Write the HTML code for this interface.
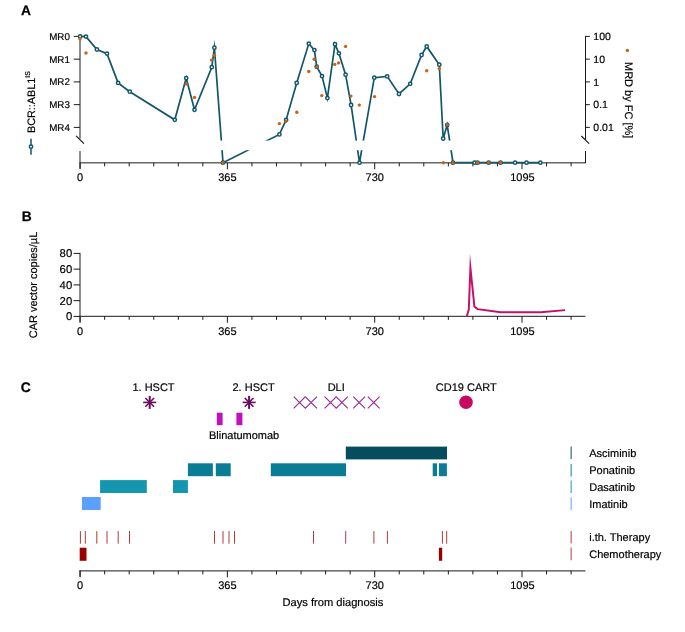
<!DOCTYPE html>
<html lang="en"><head><meta charset="utf-8"><title>Figure</title>
<style>
html,body{margin:0;padding:0;background:#fff;}
body{width:685px;height:632px;overflow:hidden;}
svg{display:block;}
svg text{font-family:"Liberation Sans", Arial, sans-serif;font-size:11px;fill:#000;text-rendering:geometricPrecision;stroke:#000;stroke-width:0.18px;}
svg text.b{font-weight:bold;font-size:13.8px;fill:#000;stroke:#000;stroke-width:0.25px;}
</style></head><body>
<svg width="685" height="632" viewBox="0 0 685 632">
<rect width="685" height="632" fill="#fff"/>

<g id="panelA">
<text class="b" x="21.0" y="15.0">A</text>
<clipPath id="clipA"><rect x="70" y="30" width="530" height="133.6"/></clipPath>
<polyline clip-path="url(#clipA)" points="80.1,36.4 86.0,36.6 96.9,49.5 107.0,53.6 118.1,82.9 129.8,91.7 174.8,119.8 186.2,78.1 194.5,109.8 211.8,67.2 214.4,47.7 223.0,162.7 279.4,134.4 286.1,119.9 296.7,82.9 308.8,43.6 314.4,50.1 316.7,66.7 322.0,76.1 327.4,98.1 335.0,44.2 338.9,53.3 345.6,74.7 351.1,105.0 359.5,162.7 374.3,77.7 387.2,76.4 399.0,94.0 410.2,83.8 421.6,55.0 426.7,46.4 439.3,64.7 443.2,138.5 447.2,125.0 453.0,162.7 474.6,162.7 477.5,162.7 488.7,162.7 500.5,162.7 515.1,162.7 526.5,162.7 540.4,162.7" fill="none" stroke="#12566A" stroke-width="1.7" stroke-linejoin="miter" stroke-miterlimit="12"/>
<rect x="60" y="140.6" width="540" height="9.6" fill="#fff"/>
<line x1="80" y1="35.9" x2="80" y2="138.6" stroke="#1a1a1a" stroke-width="1"/>
<line x1="80" y1="151" x2="80" y2="168.6" stroke="#1a1a1a" stroke-width="1"/>
<line x1="76.1" y1="135.9" x2="83.9" y2="143.7" stroke="#1a1a1a" stroke-width="1.2"/>
<line x1="585.5" y1="35.9" x2="585.5" y2="139.6" stroke="#1a1a1a" stroke-width="1"/>
<line x1="585.5" y1="151" x2="585.5" y2="163.1" stroke="#1a1a1a" stroke-width="1"/>
<line x1="581.3" y1="136" x2="589.2" y2="143.6" stroke="#1a1a1a" stroke-width="1.2"/>
<line x1="79.6" y1="162.85" x2="585.5" y2="162.85" stroke="#1a1a1a" stroke-width="1"/>
<line x1="80.10" y1="162.85" x2="80.10" y2="169.25" stroke="#1a1a1a" stroke-width="1"/>
<line x1="104.65" y1="162.85" x2="104.65" y2="166.35" stroke="#1a1a1a" stroke-width="1"/>
<line x1="129.20" y1="162.85" x2="129.20" y2="166.35" stroke="#1a1a1a" stroke-width="1"/>
<line x1="153.75" y1="162.85" x2="153.75" y2="166.35" stroke="#1a1a1a" stroke-width="1"/>
<line x1="178.30" y1="162.85" x2="178.30" y2="166.35" stroke="#1a1a1a" stroke-width="1"/>
<line x1="202.85" y1="162.85" x2="202.85" y2="166.35" stroke="#1a1a1a" stroke-width="1"/>
<line x1="227.40" y1="162.85" x2="227.40" y2="169.25" stroke="#1a1a1a" stroke-width="1"/>
<line x1="251.95" y1="162.85" x2="251.95" y2="166.35" stroke="#1a1a1a" stroke-width="1"/>
<line x1="276.50" y1="162.85" x2="276.50" y2="166.35" stroke="#1a1a1a" stroke-width="1"/>
<line x1="301.05" y1="162.85" x2="301.05" y2="166.35" stroke="#1a1a1a" stroke-width="1"/>
<line x1="325.60" y1="162.85" x2="325.60" y2="166.35" stroke="#1a1a1a" stroke-width="1"/>
<line x1="350.15" y1="162.85" x2="350.15" y2="166.35" stroke="#1a1a1a" stroke-width="1"/>
<line x1="374.70" y1="162.85" x2="374.70" y2="169.25" stroke="#1a1a1a" stroke-width="1"/>
<line x1="399.25" y1="162.85" x2="399.25" y2="166.35" stroke="#1a1a1a" stroke-width="1"/>
<line x1="423.80" y1="162.85" x2="423.80" y2="166.35" stroke="#1a1a1a" stroke-width="1"/>
<line x1="448.35" y1="162.85" x2="448.35" y2="166.35" stroke="#1a1a1a" stroke-width="1"/>
<line x1="472.90" y1="162.85" x2="472.90" y2="166.35" stroke="#1a1a1a" stroke-width="1"/>
<line x1="497.45" y1="162.85" x2="497.45" y2="166.35" stroke="#1a1a1a" stroke-width="1"/>
<line x1="522.00" y1="162.85" x2="522.00" y2="169.25" stroke="#1a1a1a" stroke-width="1"/>
<line x1="546.55" y1="162.85" x2="546.55" y2="166.35" stroke="#1a1a1a" stroke-width="1"/>
<line x1="571.10" y1="162.85" x2="571.10" y2="166.35" stroke="#1a1a1a" stroke-width="1"/>
<line x1="73.8" y1="36.40" x2="80" y2="36.40" stroke="#1a1a1a" stroke-width="1"/>
<text transform="translate(69.9,39.75) " text-anchor="end" style="font-size:9.8px">MR0</text>
<line x1="73.8" y1="59.15" x2="80" y2="59.15" stroke="#1a1a1a" stroke-width="1"/>
<text transform="translate(69.9,62.50) " text-anchor="end" style="font-size:9.8px">MR1</text>
<line x1="73.8" y1="81.90" x2="80" y2="81.90" stroke="#1a1a1a" stroke-width="1"/>
<text transform="translate(69.9,85.25) " text-anchor="end" style="font-size:9.8px">MR2</text>
<line x1="73.8" y1="104.65" x2="80" y2="104.65" stroke="#1a1a1a" stroke-width="1"/>
<text transform="translate(69.9,108.00) " text-anchor="end" style="font-size:9.8px">MR3</text>
<line x1="73.8" y1="127.40" x2="80" y2="127.40" stroke="#1a1a1a" stroke-width="1"/>
<text transform="translate(69.9,130.75) " text-anchor="end" style="font-size:9.8px">MR4</text>
<line x1="585.5" y1="36.40" x2="589.8" y2="36.40" stroke="#1a1a1a" stroke-width="1"/>
<text x="593.3" y="40.20" style="font-size:10.5px">100</text>
<line x1="585.5" y1="59.15" x2="589.8" y2="59.15" stroke="#1a1a1a" stroke-width="1"/>
<text x="593.3" y="62.95" style="font-size:10.5px">10</text>
<line x1="585.5" y1="81.90" x2="589.8" y2="81.90" stroke="#1a1a1a" stroke-width="1"/>
<text x="593.3" y="85.70" style="font-size:10.5px">1</text>
<line x1="585.5" y1="104.65" x2="589.8" y2="104.65" stroke="#1a1a1a" stroke-width="1"/>
<text x="593.3" y="108.45" style="font-size:10.5px">0.1</text>
<line x1="585.5" y1="127.40" x2="589.8" y2="127.40" stroke="#1a1a1a" stroke-width="1"/>
<text x="593.3" y="131.20" style="font-size:10.5px">0.01</text>
<text x="80.10" y="180.9" text-anchor="middle">0</text>
<text x="227.40" y="180.9" text-anchor="middle">365</text>
<text x="374.70" y="180.9" text-anchor="middle">730</text>
<text x="522.50" y="180.9" text-anchor="middle">1095</text>
<polyline points="453,162.7 540.4,162.7" fill="none" stroke="#12566A" stroke-width="1.6"/>
<circle cx="80.1" cy="36.4" r="1.65" fill="#fff" stroke="#12566A" stroke-width="1.5"/>
<circle cx="86.0" cy="36.6" r="1.65" fill="#fff" stroke="#12566A" stroke-width="1.5"/>
<circle cx="96.9" cy="49.5" r="1.65" fill="#fff" stroke="#12566A" stroke-width="1.5"/>
<circle cx="107.0" cy="53.6" r="1.65" fill="#fff" stroke="#12566A" stroke-width="1.5"/>
<circle cx="118.1" cy="82.9" r="1.65" fill="#fff" stroke="#12566A" stroke-width="1.5"/>
<circle cx="129.8" cy="91.7" r="1.65" fill="#fff" stroke="#12566A" stroke-width="1.5"/>
<circle cx="174.8" cy="119.8" r="1.65" fill="#fff" stroke="#12566A" stroke-width="1.5"/>
<circle cx="186.2" cy="78.1" r="1.65" fill="#fff" stroke="#12566A" stroke-width="1.5"/>
<circle cx="194.5" cy="109.8" r="1.65" fill="#fff" stroke="#12566A" stroke-width="1.5"/>
<circle cx="211.8" cy="67.2" r="1.65" fill="#fff" stroke="#12566A" stroke-width="1.5"/>
<circle cx="214.4" cy="47.7" r="1.65" fill="#fff" stroke="#12566A" stroke-width="1.5"/>
<circle cx="223.0" cy="162.7" r="1.65" fill="#fff" stroke="#12566A" stroke-width="1.5"/>
<circle cx="279.4" cy="134.4" r="1.65" fill="#fff" stroke="#12566A" stroke-width="1.5"/>
<circle cx="286.1" cy="119.9" r="1.65" fill="#fff" stroke="#12566A" stroke-width="1.5"/>
<circle cx="296.7" cy="82.9" r="1.65" fill="#fff" stroke="#12566A" stroke-width="1.5"/>
<circle cx="308.8" cy="43.6" r="1.65" fill="#fff" stroke="#12566A" stroke-width="1.5"/>
<circle cx="314.4" cy="50.1" r="1.65" fill="#fff" stroke="#12566A" stroke-width="1.5"/>
<circle cx="316.7" cy="66.7" r="1.65" fill="#fff" stroke="#12566A" stroke-width="1.5"/>
<circle cx="322.0" cy="76.1" r="1.65" fill="#fff" stroke="#12566A" stroke-width="1.5"/>
<circle cx="327.4" cy="98.1" r="1.65" fill="#fff" stroke="#12566A" stroke-width="1.5"/>
<circle cx="335.0" cy="44.2" r="1.65" fill="#fff" stroke="#12566A" stroke-width="1.5"/>
<circle cx="338.9" cy="53.3" r="1.65" fill="#fff" stroke="#12566A" stroke-width="1.5"/>
<circle cx="345.6" cy="74.7" r="1.65" fill="#fff" stroke="#12566A" stroke-width="1.5"/>
<circle cx="351.1" cy="105.0" r="1.65" fill="#fff" stroke="#12566A" stroke-width="1.5"/>
<circle cx="359.5" cy="162.7" r="1.65" fill="#fff" stroke="#12566A" stroke-width="1.5"/>
<circle cx="374.3" cy="77.7" r="1.65" fill="#fff" stroke="#12566A" stroke-width="1.5"/>
<circle cx="387.2" cy="76.4" r="1.65" fill="#fff" stroke="#12566A" stroke-width="1.5"/>
<circle cx="399.0" cy="94.0" r="1.65" fill="#fff" stroke="#12566A" stroke-width="1.5"/>
<circle cx="410.2" cy="83.8" r="1.65" fill="#fff" stroke="#12566A" stroke-width="1.5"/>
<circle cx="421.6" cy="55.0" r="1.65" fill="#fff" stroke="#12566A" stroke-width="1.5"/>
<circle cx="426.7" cy="46.4" r="1.65" fill="#fff" stroke="#12566A" stroke-width="1.5"/>
<circle cx="439.3" cy="64.7" r="1.65" fill="#fff" stroke="#12566A" stroke-width="1.5"/>
<circle cx="443.2" cy="138.5" r="1.65" fill="#fff" stroke="#12566A" stroke-width="1.5"/>
<circle cx="447.2" cy="125.0" r="1.65" fill="#fff" stroke="#12566A" stroke-width="1.5"/>
<circle cx="453.0" cy="162.7" r="1.65" fill="#fff" stroke="#12566A" stroke-width="1.5"/>
<circle cx="474.6" cy="162.7" r="1.65" fill="#fff" stroke="#12566A" stroke-width="1.5"/>
<circle cx="477.5" cy="162.7" r="1.65" fill="#fff" stroke="#12566A" stroke-width="1.5"/>
<circle cx="488.7" cy="162.7" r="1.65" fill="#fff" stroke="#12566A" stroke-width="1.5"/>
<circle cx="500.5" cy="162.7" r="1.65" fill="#fff" stroke="#12566A" stroke-width="1.5"/>
<circle cx="515.1" cy="162.7" r="1.65" fill="#fff" stroke="#12566A" stroke-width="1.5"/>
<circle cx="526.5" cy="162.7" r="1.65" fill="#fff" stroke="#12566A" stroke-width="1.5"/>
<circle cx="540.4" cy="162.7" r="1.65" fill="#fff" stroke="#12566A" stroke-width="1.5"/>
<circle cx="80.0" cy="38.7" r="1.7" fill="#C8640F"/>
<circle cx="86.0" cy="53.0" r="1.7" fill="#C8640F"/>
<circle cx="186.2" cy="83.9" r="1.7" fill="#C8640F"/>
<circle cx="194.5" cy="97.4" r="1.7" fill="#C8640F"/>
<circle cx="211.5" cy="60.1" r="1.7" fill="#C8640F"/>
<circle cx="214.4" cy="55.2" r="1.7" fill="#C8640F"/>
<circle cx="223.0" cy="162.7" r="1.7" fill="#C8640F"/>
<circle cx="279.4" cy="123.6" r="1.7" fill="#C8640F"/>
<circle cx="286.1" cy="121.1" r="1.7" fill="#C8640F"/>
<circle cx="296.8" cy="112.2" r="1.7" fill="#C8640F"/>
<circle cx="308.8" cy="71.5" r="1.7" fill="#C8640F"/>
<circle cx="314.2" cy="59.3" r="1.7" fill="#C8640F"/>
<circle cx="316.9" cy="66.9" r="1.7" fill="#C8640F"/>
<circle cx="321.8" cy="95.6" r="1.7" fill="#C8640F"/>
<circle cx="334.8" cy="64.4" r="1.7" fill="#C8640F"/>
<circle cx="338.6" cy="62.9" r="1.7" fill="#C8640F"/>
<circle cx="345.6" cy="46.4" r="1.7" fill="#C8640F"/>
<circle cx="350.9" cy="96.1" r="1.7" fill="#C8640F"/>
<circle cx="359.3" cy="105.1" r="1.7" fill="#C8640F"/>
<circle cx="374.5" cy="96.6" r="1.7" fill="#C8640F"/>
<circle cx="426.7" cy="70.8" r="1.7" fill="#C8640F"/>
<circle cx="439.3" cy="68.6" r="1.7" fill="#C8640F"/>
<circle cx="447.2" cy="124.7" r="1.7" fill="#C8640F"/>
<circle cx="443.4" cy="162.7" r="1.7" fill="#C8640F"/>
<circle cx="453.0" cy="162.7" r="1.7" fill="#C8640F"/>
<circle cx="477.5" cy="162.7" r="1.7" fill="#C8640F"/>
<circle cx="488.7" cy="162.7" r="1.7" fill="#C8640F"/>
<circle cx="500.5" cy="162.7" r="1.7" fill="#C8640F"/>
<text transform="translate(35.3,133.0) rotate(-90)" style="font-size:10.8px">BCR::ABL1<tspan dy="-5" style="font-size:7px">IS</tspan></text>
<line x1="31" y1="138.7" x2="31" y2="154.7" stroke="#12566A" stroke-width="1.5"/>
<circle cx="31" cy="146.7" r="1.65" fill="#fff" stroke="#12566A" stroke-width="1.5"/>
<text transform="translate(624.5,62.0) rotate(90)" style="font-size:11px">MRD by FC [%]</text>
<circle cx="627.4" cy="50.4" r="1.7" fill="#C8640F"/>
</g>
<g id="panelB">
<text class="b" x="21.85" y="220.9">B</text>
<line x1="80" y1="252.9" x2="80" y2="322.3" stroke="#1a1a1a" stroke-width="1"/>
<line x1="79.6" y1="316.3" x2="585.5" y2="316.3" stroke="#1a1a1a" stroke-width="1"/>
<line x1="80.10" y1="316.3" x2="80.10" y2="322.7" stroke="#1a1a1a" stroke-width="1"/>
<line x1="104.65" y1="316.3" x2="104.65" y2="319.8" stroke="#1a1a1a" stroke-width="1"/>
<line x1="129.20" y1="316.3" x2="129.20" y2="319.8" stroke="#1a1a1a" stroke-width="1"/>
<line x1="153.75" y1="316.3" x2="153.75" y2="319.8" stroke="#1a1a1a" stroke-width="1"/>
<line x1="178.30" y1="316.3" x2="178.30" y2="319.8" stroke="#1a1a1a" stroke-width="1"/>
<line x1="202.85" y1="316.3" x2="202.85" y2="319.8" stroke="#1a1a1a" stroke-width="1"/>
<line x1="227.40" y1="316.3" x2="227.40" y2="322.7" stroke="#1a1a1a" stroke-width="1"/>
<line x1="251.95" y1="316.3" x2="251.95" y2="319.8" stroke="#1a1a1a" stroke-width="1"/>
<line x1="276.50" y1="316.3" x2="276.50" y2="319.8" stroke="#1a1a1a" stroke-width="1"/>
<line x1="301.05" y1="316.3" x2="301.05" y2="319.8" stroke="#1a1a1a" stroke-width="1"/>
<line x1="325.60" y1="316.3" x2="325.60" y2="319.8" stroke="#1a1a1a" stroke-width="1"/>
<line x1="350.15" y1="316.3" x2="350.15" y2="319.8" stroke="#1a1a1a" stroke-width="1"/>
<line x1="374.70" y1="316.3" x2="374.70" y2="322.7" stroke="#1a1a1a" stroke-width="1"/>
<line x1="399.25" y1="316.3" x2="399.25" y2="319.8" stroke="#1a1a1a" stroke-width="1"/>
<line x1="423.80" y1="316.3" x2="423.80" y2="319.8" stroke="#1a1a1a" stroke-width="1"/>
<line x1="448.35" y1="316.3" x2="448.35" y2="319.8" stroke="#1a1a1a" stroke-width="1"/>
<line x1="472.90" y1="316.3" x2="472.90" y2="319.8" stroke="#1a1a1a" stroke-width="1"/>
<line x1="497.45" y1="316.3" x2="497.45" y2="319.8" stroke="#1a1a1a" stroke-width="1"/>
<line x1="522.00" y1="316.3" x2="522.00" y2="322.7" stroke="#1a1a1a" stroke-width="1"/>
<line x1="546.55" y1="316.3" x2="546.55" y2="319.8" stroke="#1a1a1a" stroke-width="1"/>
<line x1="571.10" y1="316.3" x2="571.10" y2="319.8" stroke="#1a1a1a" stroke-width="1"/>
<line x1="73.6" y1="253.40" x2="80" y2="253.40" stroke="#1a1a1a" stroke-width="1"/>
<text x="72.2" y="257.40" text-anchor="end" style="font-size:11.3px">80</text>
<line x1="73.6" y1="269.15" x2="80" y2="269.15" stroke="#1a1a1a" stroke-width="1"/>
<text x="72.2" y="273.15" text-anchor="end" style="font-size:11.3px">60</text>
<line x1="73.6" y1="284.90" x2="80" y2="284.90" stroke="#1a1a1a" stroke-width="1"/>
<text x="72.2" y="288.90" text-anchor="end" style="font-size:11.3px">40</text>
<line x1="73.6" y1="300.65" x2="80" y2="300.65" stroke="#1a1a1a" stroke-width="1"/>
<text x="72.2" y="304.65" text-anchor="end" style="font-size:11.3px">20</text>
<line x1="73.6" y1="316.40" x2="80" y2="316.40" stroke="#1a1a1a" stroke-width="1"/>
<text x="72.2" y="320.40" text-anchor="end" style="font-size:11.3px">0</text>
<text x="80.10" y="335.0" text-anchor="middle">0</text>
<text x="227.40" y="335.0" text-anchor="middle">365</text>
<text x="374.70" y="335.0" text-anchor="middle">730</text>
<text x="522.50" y="335.0" text-anchor="middle">1095</text>
<polyline points="466.8,316.2 468.8,309.5 470.4,267.6 474.4,306.4 477.6,309.1 500.7,312.3 540.9,312.3 565.1,310.1" fill="none" stroke="#C60F6B" stroke-width="1.95" stroke-linejoin="miter" stroke-miterlimit="30"/>
<text transform="translate(37.1,338.3) rotate(-90)">CAR vector copies/µL</text>
</g>
<g id="panelC">
<text class="b" x="20.8" y="392.1">C</text>
<text x="153.5" y="391.2" text-anchor="middle">1. HSCT</text>
<text x="253.6" y="391.2" text-anchor="middle">2. HSCT</text>
<text x="336.2" y="391.2" text-anchor="middle">DLI</text>
<text x="466.3" y="391.2" text-anchor="middle">CD19 CART</text>
<text x="244.1" y="439.2" text-anchor="middle">Blinatumomab</text>
<g stroke="#680C5C" stroke-linecap="butt"><line x1="149.7" y1="395.9" x2="149.7" y2="408.9" stroke-width="2"/><line x1="143.2" y1="402.4" x2="156.2" y2="402.4" stroke-width="1.6"/><line x1="145.35" y1="398.04999999999995" x2="154.04999999999998" y2="406.75" stroke-width="1.6"/><line x1="145.35" y1="406.75" x2="154.04999999999998" y2="398.04999999999995" stroke-width="1.6"/></g>
<g stroke="#680C5C" stroke-linecap="butt"><line x1="249.1" y1="395.9" x2="249.1" y2="408.9" stroke-width="2"/><line x1="242.6" y1="402.4" x2="255.6" y2="402.4" stroke-width="1.6"/><line x1="244.75" y1="398.04999999999995" x2="253.45" y2="406.75" stroke-width="1.6"/><line x1="244.75" y1="406.75" x2="253.45" y2="398.04999999999995" stroke-width="1.6"/></g>
<path d="M293.70000000000005,396.6L305.5,408.4M293.70000000000005,408.4L305.5,396.6" stroke="#962896" stroke-width="1.15" fill="none"/>
<path d="M305.20000000000005,396.6L317.0,408.4M305.20000000000005,408.4L317.0,396.6" stroke="#962896" stroke-width="1.15" fill="none"/>
<path d="M324.6,396.6L336.4,408.4M324.6,408.4L336.4,396.6" stroke="#962896" stroke-width="1.15" fill="none"/>
<path d="M336.0,396.6L347.79999999999995,408.4M336.0,408.4L347.79999999999995,396.6" stroke="#962896" stroke-width="1.15" fill="none"/>
<path d="M353.3,396.6L365.09999999999997,408.4M353.3,408.4L365.09999999999997,396.6" stroke="#962896" stroke-width="1.15" fill="none"/>
<path d="M367.8,396.6L379.59999999999997,408.4M367.8,408.4L379.59999999999997,396.6" stroke="#962896" stroke-width="1.15" fill="none"/>
<circle cx="466" cy="402.3" r="6.8" fill="#C8085E"/>
<rect x="216.8" y="412.7" width="5.8" height="12.5" fill="#C010C0"/>
<rect x="236.4" y="412.7" width="6.0" height="12.5" fill="#C010C0"/>
<rect x="345.8" y="446.6" width="101.20" height="12.80" fill="#054C5F"/>
<rect x="187.9" y="463.3" width="25.00" height="12.90" fill="#0A7D95"/>
<rect x="215.8" y="463.3" width="14.90" height="12.90" fill="#0A7D95"/>
<rect x="270.8" y="463.3" width="75.20" height="12.90" fill="#0A7D95"/>
<rect x="432.7" y="463.3" width="4.30" height="12.90" fill="#0A7D95"/>
<rect x="439.0" y="463.3" width="7.90" height="12.90" fill="#0A7D95"/>
<rect x="100.1" y="480.1" width="46.70" height="12.90" fill="#1396AE"/>
<rect x="173.0" y="480.1" width="14.90" height="12.90" fill="#1396AE"/>
<rect x="82.0" y="497.0" width="18.70" height="13.00" fill="#5B9FFF"/>
<line x1="80.4" y1="531.1" x2="80.4" y2="543.7" stroke="#B03A3A" stroke-width="1"/>
<line x1="85.3" y1="531.1" x2="85.3" y2="543.7" stroke="#B03A3A" stroke-width="1"/>
<line x1="96.8" y1="531.1" x2="96.8" y2="543.7" stroke="#B03A3A" stroke-width="1"/>
<line x1="107.0" y1="531.1" x2="107.0" y2="543.7" stroke="#B03A3A" stroke-width="1"/>
<line x1="118.2" y1="531.1" x2="118.2" y2="543.7" stroke="#B03A3A" stroke-width="1"/>
<line x1="129.5" y1="531.1" x2="129.5" y2="543.7" stroke="#B03A3A" stroke-width="1"/>
<line x1="214.5" y1="531.1" x2="214.5" y2="543.7" stroke="#B03A3A" stroke-width="1"/>
<line x1="223.0" y1="531.1" x2="223.0" y2="543.7" stroke="#B03A3A" stroke-width="1"/>
<line x1="229.0" y1="531.1" x2="229.0" y2="543.7" stroke="#B03A3A" stroke-width="1"/>
<line x1="234.5" y1="531.1" x2="234.5" y2="543.7" stroke="#B03A3A" stroke-width="1"/>
<line x1="313.5" y1="531.1" x2="313.5" y2="543.7" stroke="#B03A3A" stroke-width="1"/>
<line x1="345.7" y1="531.1" x2="345.7" y2="543.7" stroke="#B03A3A" stroke-width="1"/>
<line x1="373.9" y1="531.1" x2="373.9" y2="543.7" stroke="#B03A3A" stroke-width="1"/>
<line x1="387.4" y1="531.1" x2="387.4" y2="543.7" stroke="#B03A3A" stroke-width="1"/>
<line x1="442.4" y1="531.1" x2="442.4" y2="543.7" stroke="#B03A3A" stroke-width="1"/>
<line x1="446.7" y1="531.1" x2="446.7" y2="543.7" stroke="#B03A3A" stroke-width="1"/>
<rect x="79.7" y="547.7" width="6.80" height="13.10" fill="#9B0000"/>
<rect x="438.9" y="547.7" width="3.30" height="13.10" fill="#9B0000"/>
<line x1="571.15" y1="446.6" x2="571.15" y2="458.9" stroke="#054C5F" stroke-width="1.15" opacity="0.85"/>
<line x1="571.15" y1="464.1" x2="571.15" y2="476.4" stroke="#0A7D95" stroke-width="1.15" opacity="0.85"/>
<line x1="571.15" y1="480.5" x2="571.15" y2="493.1" stroke="#1396AE" stroke-width="1.15" opacity="0.85"/>
<line x1="571.15" y1="497.2" x2="571.15" y2="509.9" stroke="#5B9FFF" stroke-width="1.15" opacity="0.85"/>
<line x1="571.15" y1="531.1" x2="571.15" y2="543.5" stroke="#B03A3A" stroke-width="1.15" opacity="0.85"/>
<line x1="571.15" y1="547.4" x2="571.15" y2="560.3" stroke="#B03A3A" stroke-width="1.15" opacity="0.85"/>
<text x="589.2" y="456.8">Asciminib</text>
<text x="589.2" y="473.9">Ponatinib</text>
<text x="589.2" y="490.8">Dasatinib</text>
<text x="589.2" y="507.5">Imatinib</text>
<text x="589.2" y="540.8">i.th. Therapy</text>
<text x="589.2" y="557.6">Chemotherapy</text>
<line x1="79.6" y1="570.9" x2="585.5" y2="570.9" stroke="#1a1a1a" stroke-width="1"/>
<line x1="80.10" y1="570.9" x2="80.10" y2="577.3" stroke="#1a1a1a" stroke-width="1"/>
<line x1="104.65" y1="570.9" x2="104.65" y2="574.4" stroke="#1a1a1a" stroke-width="1"/>
<line x1="129.20" y1="570.9" x2="129.20" y2="574.4" stroke="#1a1a1a" stroke-width="1"/>
<line x1="153.75" y1="570.9" x2="153.75" y2="574.4" stroke="#1a1a1a" stroke-width="1"/>
<line x1="178.30" y1="570.9" x2="178.30" y2="574.4" stroke="#1a1a1a" stroke-width="1"/>
<line x1="202.85" y1="570.9" x2="202.85" y2="574.4" stroke="#1a1a1a" stroke-width="1"/>
<line x1="227.40" y1="570.9" x2="227.40" y2="577.3" stroke="#1a1a1a" stroke-width="1"/>
<line x1="251.95" y1="570.9" x2="251.95" y2="574.4" stroke="#1a1a1a" stroke-width="1"/>
<line x1="276.50" y1="570.9" x2="276.50" y2="574.4" stroke="#1a1a1a" stroke-width="1"/>
<line x1="301.05" y1="570.9" x2="301.05" y2="574.4" stroke="#1a1a1a" stroke-width="1"/>
<line x1="325.60" y1="570.9" x2="325.60" y2="574.4" stroke="#1a1a1a" stroke-width="1"/>
<line x1="350.15" y1="570.9" x2="350.15" y2="574.4" stroke="#1a1a1a" stroke-width="1"/>
<line x1="374.70" y1="570.9" x2="374.70" y2="577.3" stroke="#1a1a1a" stroke-width="1"/>
<line x1="399.25" y1="570.9" x2="399.25" y2="574.4" stroke="#1a1a1a" stroke-width="1"/>
<line x1="423.80" y1="570.9" x2="423.80" y2="574.4" stroke="#1a1a1a" stroke-width="1"/>
<line x1="448.35" y1="570.9" x2="448.35" y2="574.4" stroke="#1a1a1a" stroke-width="1"/>
<line x1="472.90" y1="570.9" x2="472.90" y2="574.4" stroke="#1a1a1a" stroke-width="1"/>
<line x1="497.45" y1="570.9" x2="497.45" y2="574.4" stroke="#1a1a1a" stroke-width="1"/>
<line x1="522.00" y1="570.9" x2="522.00" y2="577.3" stroke="#1a1a1a" stroke-width="1"/>
<line x1="546.55" y1="570.9" x2="546.55" y2="574.4" stroke="#1a1a1a" stroke-width="1"/>
<line x1="571.10" y1="570.9" x2="571.10" y2="574.4" stroke="#1a1a1a" stroke-width="1"/>
<line x1="80" y1="570.2" x2="80" y2="576.7" stroke="#1a1a1a" stroke-width="1"/>
<text x="80.10" y="589.3" text-anchor="middle">0</text>
<text x="227.40" y="589.3" text-anchor="middle">365</text>
<text x="374.70" y="589.3" text-anchor="middle">730</text>
<text x="522.50" y="589.3" text-anchor="middle">1095</text>
<text x="332.9" y="605.9" text-anchor="middle" style="font-size:11.15px">Days from diagnosis</text>
</g>
</svg></body></html>
